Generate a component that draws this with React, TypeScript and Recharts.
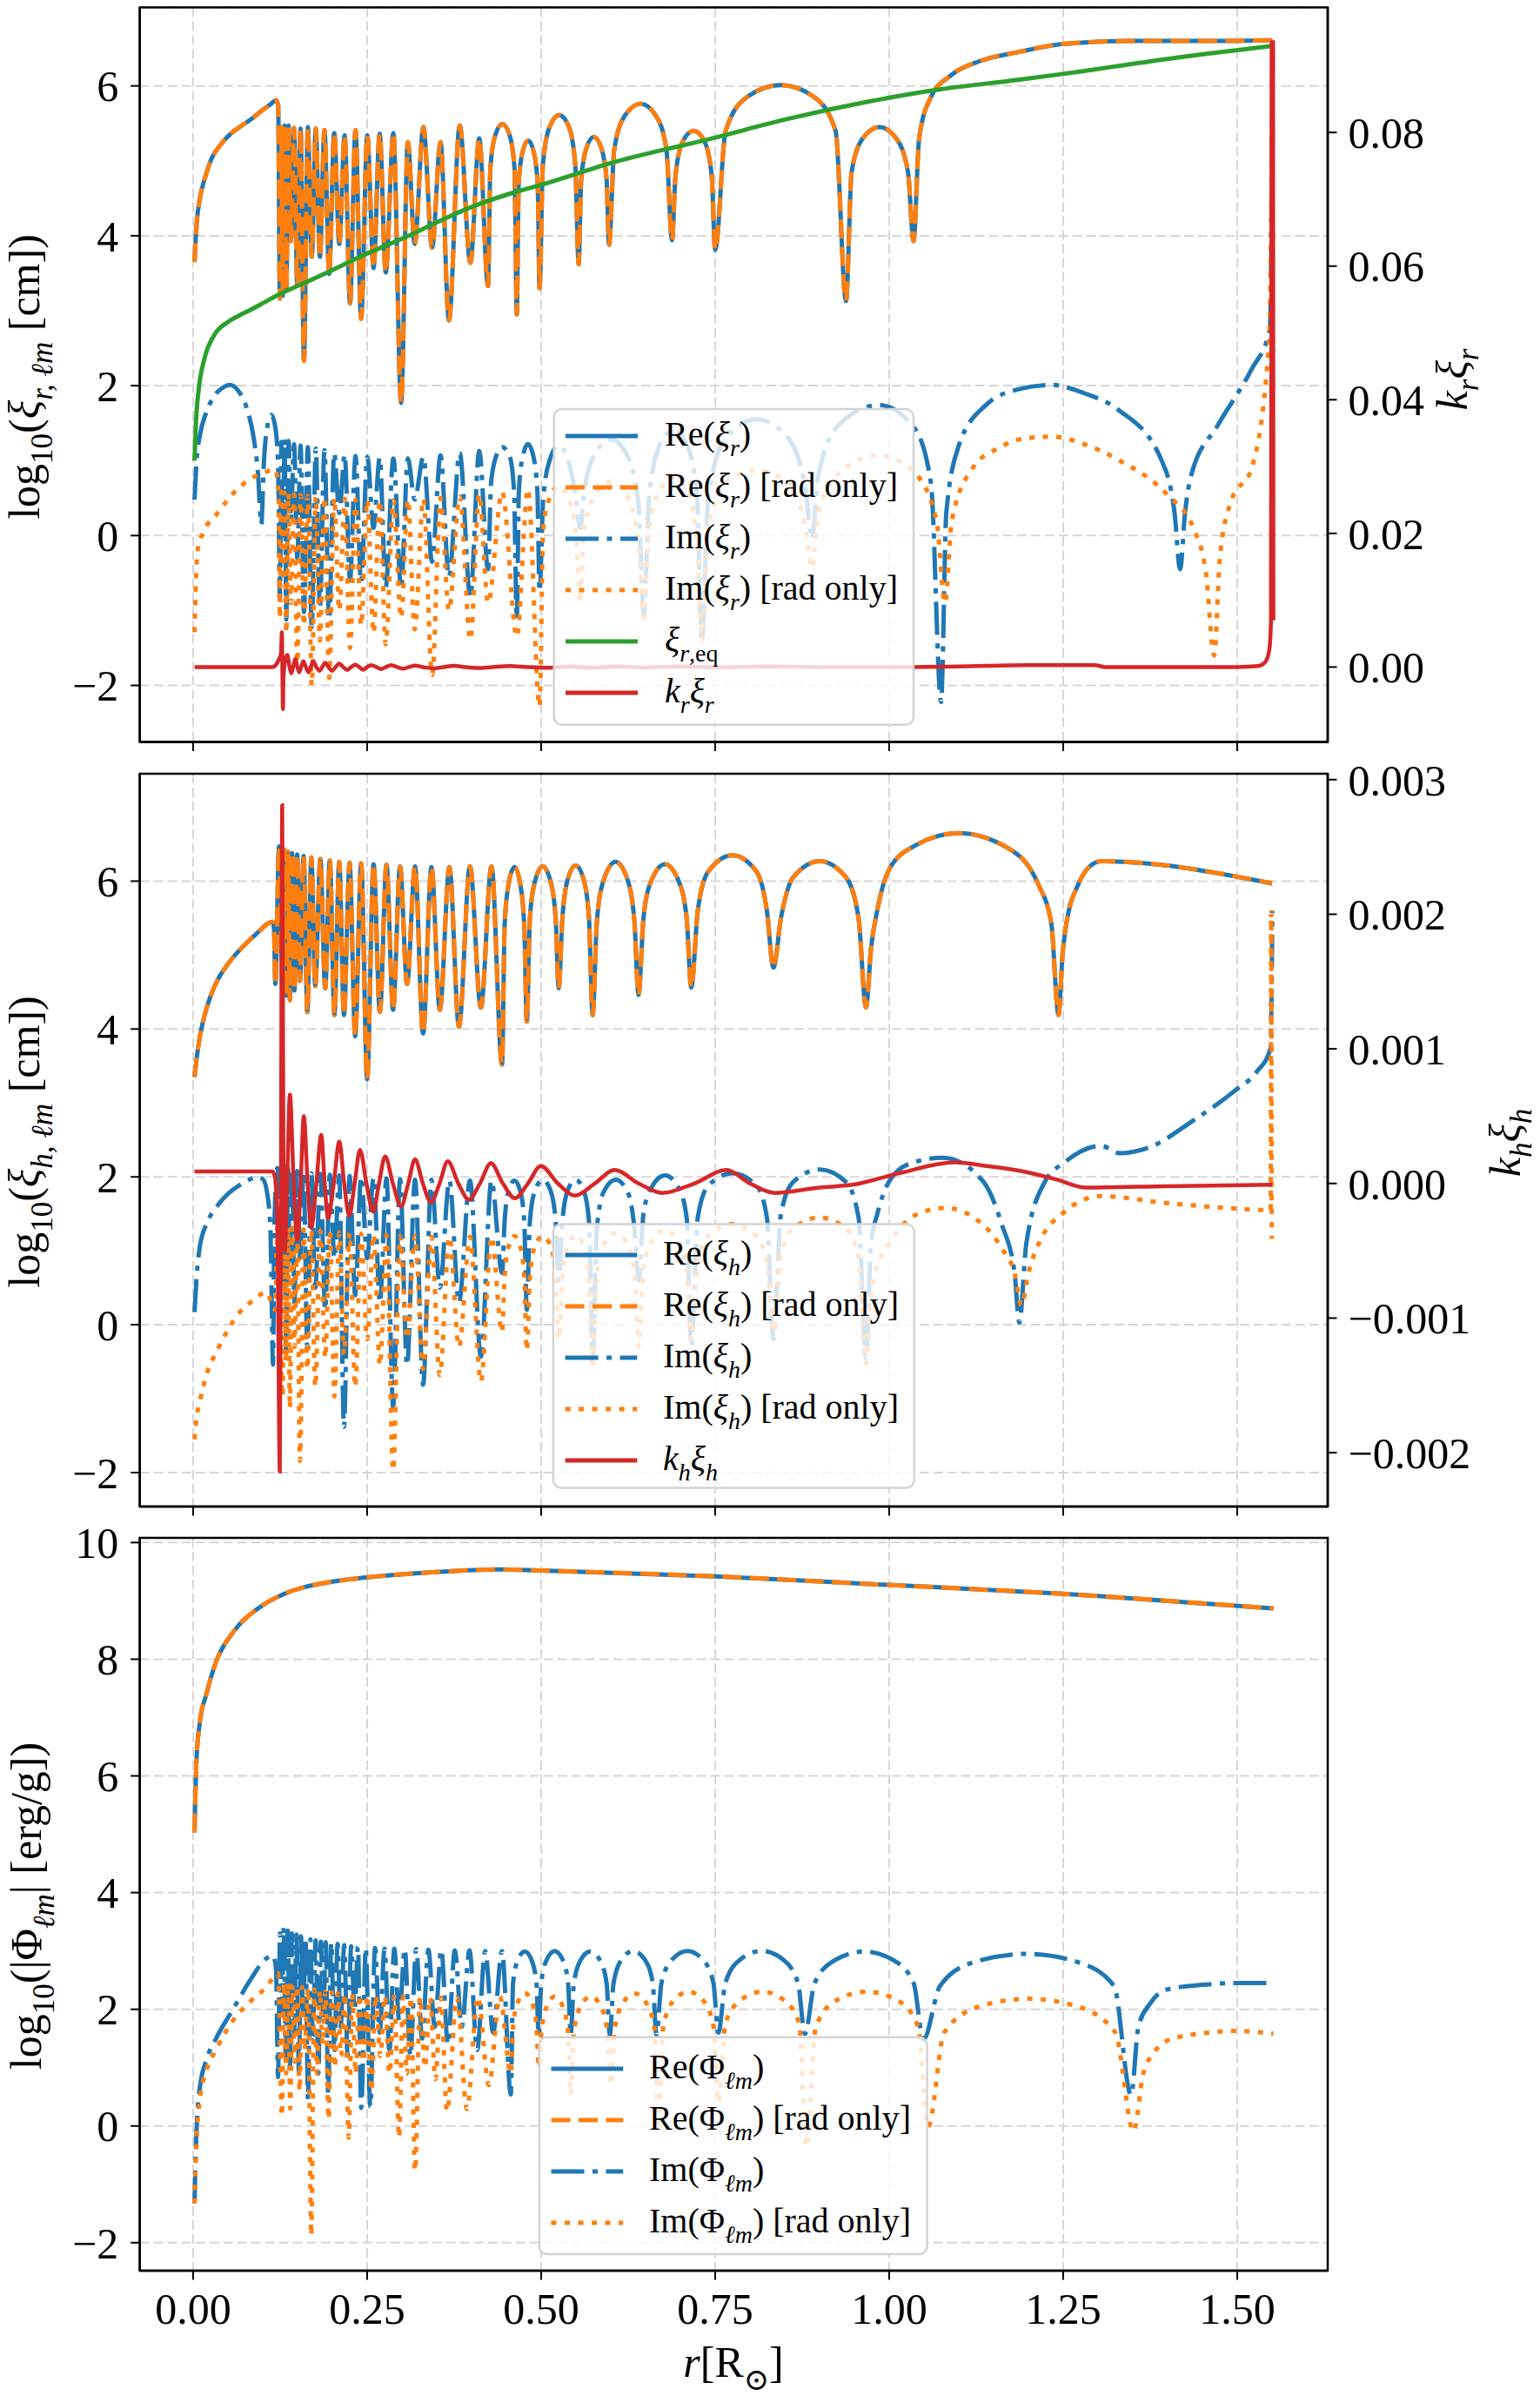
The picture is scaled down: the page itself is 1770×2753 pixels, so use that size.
import React from 'react';
import { LineChart, Line, XAxis, YAxis, CartesianGrid, ReferenceArea } from 'recharts';

const FONT = "'Liberation Serif', 'DejaVu Serif', serif";
const BLUE = '#1f77b4';
const ORANGE = '#ff7f0e';
const GREEN = '#2ca02c';
const RED = '#d62728';
const DASH = '22 9.5';
const DASHDOT = '38 9.5 6 9.5';
const DOT = '6 9.5';

const X_TICKS = [0, 0.25, 0.5, 0.75, 1.0, 1.25, 1.5];
const X_DOMAIN = [-0.0766, 1.63];

const P1_LEFT_TICKS = [-2, 0, 2, 4, 6];
const P1_RIGHT_TICKS = [0, 0.02, 0.04, 0.06, 0.08];
const P2_LEFT_TICKS = [-2, 0, 2, 4, 6];
const P2_RIGHT_TICKS = [-0.002, -0.001, 0, 0.001, 0.002, 0.003];
const P3_LEFT_TICKS = [-2, 0, 2, 4, 6, 8, 10];

// ---------- Panel 1: xi_r ----------
const reXr = [
  [0.002,3.65],[0.005,4.15],[0.01,4.51],[0.018,4.8],[0.027,5.04],[0.04,5.22],[0.055,5.37],[0.07,5.47],[0.084,5.56],[0.1,5.68],[0.112,5.76],[0.119,5.81],[0.1222,5.74],
  [0.1246,3.16],[0.1268,5.45],[0.129,3.2],[0.1314,5.47],[0.1338,3.28],[0.1371,5.47],[0.1404,3.93],[0.145,5.44],[0.1496,3.33],[0.1544,5.43],[0.1592,2.33],[0.1648,5.45],[0.1704,3.72],[0.1762,5.43],[0.1821,3.72],[0.1887,5.41],[0.1954,3.49],[0.2027,5.37],[0.21,3.89],[0.2177,5.34],[0.2254,3.10],[0.2333,5.41],[0.2413,2.89],[0.2502,5.34],[0.2592,3.57],[0.268,5.36],[0.2767,3.51],[0.2877,5.37],[0.2988,1.77],[0.3085,5.25],[0.3183,3.89],[0.3308,5.45],[0.3433,3.84],[0.3554,5.25],[0.3675,2.87],[0.383,5.47],[0.3983,3.64],[0.411,5.30],[0.4237,3.33],
  [0.427,4.9],[0.434,5.34],[0.4443,5.49],[0.4547,5.34],[0.4617,4.9],[0.465,2.95],
  [0.4677,4.7],[0.4733,5.12],[0.4813,5.27],[0.4893,5.12],[0.495,4.7],[0.4977,3.30],
  [0.5025,4.95],[0.512,5.45],[0.526,5.61],[0.540,5.45],[0.549,4.95],[0.5539,3.62],
  [0.5575,4.75],[0.565,5.17],[0.5757,5.32],[0.5865,5.17],[0.594,4.75],[0.5975,3.88],
  [0.605,5.15],[0.62,5.6],[0.643,5.76],[0.665,5.6],[0.68,5.15],[0.688,3.94],
  [0.693,4.8],[0.703,5.25],[0.719,5.40],[0.735,5.25],[0.745,4.8],[0.75,3.81],
  [0.765,5.4],[0.797,5.86],[0.844,6.01],[0.891,5.86],[0.923,5.4],[0.938,3.13],
  [0.946,4.85],[0.962,5.3],[0.986,5.45],[1.01,5.3],[1.027,4.85],[1.035,3.93],
  [1.043,5.3],[1.06,5.85],[1.09,6.15],[1.13,6.33],[1.185,6.45],[1.25,6.56],[1.35,6.6],[1.45,6.6],[1.5505,6.61],
];

const imXr = [
  [0.002,0.48],[0.005,1.0],[0.01,1.35],[0.018,1.62],[0.03,1.86],[0.042,1.97],[0.0525,2.01],[0.065,1.93],[0.077,1.7],[0.087,1.3],[0.093,0.85],[0.098,0.15],[0.1015,0.95],[0.106,1.42],[0.1123,1.61],[0.118,1.45],[0.1222,0.9],
  [0.1246,-0.86],[0.1268,1.25],[0.129,0.0],[0.1314,1.28],[0.1338,-1.12],[0.1371,1.26],[0.1404,0.2],[0.145,1.22],[0.1496,-0.3],[0.1544,1.2],[0.1592,-1.02],[0.1648,1.18],[0.1704,-1.22],[0.1762,1.16],[0.1821,-0.95],[0.1887,1.14],[0.1954,-1.12],[0.2027,1.1],[0.21,0.3],[0.2177,1.08],[0.2254,-0.59],[0.2333,1.06],[0.2413,-0.62],[0.2502,1.05],[0.2592,0.1],[0.268,1.04],[0.2767,-0.69],[0.2877,1.03],[0.2988,-0.69],[0.3085,1.03],[0.3183,0.48],[0.3308,1.05],[0.3433,-0.35],[0.3554,1.07],[0.3675,-0.55],[0.383,1.1],[0.3983,-0.82],[0.411,1.13],[0.4237,-0.45],
  [0.428,0.7],[0.435,1.05],[0.444,1.18],[0.455,1.05],[0.461,0.6],[0.465,-1.12],[0.468,0.6],[0.4735,1.05],[0.481,1.22],[0.489,1.05],[0.4945,0.6],[0.4977,-0.75],
  [0.503,0.5],[0.512,1.0],[0.525,1.2],[0.539,1.0],[0.55,0.5],[0.556,0.1],[0.562,0.6],[0.578,1.1],[0.6,1.28],[0.622,1.1],[0.64,0.4],[0.6475,-1.06],[0.655,0.5],[0.67,1.2],[0.69,1.4],[0.71,1.2],[0.724,0.5],[0.7308,-1.41],[0.74,0.5],[0.765,1.3],[0.81,1.55],[0.855,1.3],[0.88,0.6],[0.889,-0.05],[0.898,0.8],[0.93,1.5],[0.985,1.74],[1.035,1.45],[1.06,0.7],[1.0746,-2.22],
  [1.082,0.3],[1.1,1.2],[1.14,1.75],[1.185,1.95],[1.233,2.01],[1.28,1.9],[1.329,1.68],[1.391,1.01],[1.41,0.3],[1.418,-0.45],[1.425,0.3],[1.434,0.81],[1.472,1.47],[1.52,2.21],[1.547,2.75],[1.5495,4.5],[1.551,6.5],
];

const imXrRad = [
  [0.002,-1.29],[0.004,-0.6],[0.0066,-0.19],[0.015,0.05],[0.0334,0.28],[0.05,0.48],[0.067,0.65],[0.085,0.77],[0.105,0.85],[0.118,0.88],[0.1225,0.6],
  [0.1246,-1.1],[0.1268,0.58],[0.129,-0.6],[0.1314,0.57],[0.1338,-1.3],[0.1371,0.56],[0.1404,-0.9],[0.145,0.55],[0.1496,-1.7],[0.1544,0.54],[0.1592,-1.2],[0.1648,0.53],[0.1704,-2.0],[0.1762,0.52],[0.1821,-1.4],[0.1887,0.51],[0.1954,-1.9],[0.2027,0.5],[0.21,-1.0],[0.2177,0.49],[0.2254,-1.5],[0.2333,0.48],[0.2413,-1.2],[0.2502,0.48],[0.2592,-1.3],[0.268,0.47],[0.2767,-1.45],[0.2877,0.47],[0.2988,-1.1],[0.3085,0.48],[0.3183,-1.25],[0.3308,0.49],[0.3433,-1.86],[0.3554,0.5],[0.3675,-1.0],[0.383,0.52],[0.3983,-1.39],[0.411,0.55],[0.4237,-0.9],[0.444,0.58],[0.465,-1.35],[0.481,0.62],[0.4977,-2.28],
  [0.503,0.1],[0.512,0.5],[0.525,0.66],[0.539,0.5],[0.55,0.0],[0.556,-0.9],[0.562,0.1],[0.578,0.55],[0.6,0.72],[0.622,0.55],[0.64,-0.1],[0.6475,-1.1],[0.655,0.1],[0.67,0.6],[0.69,0.78],[0.71,0.6],[0.724,-0.1],[0.7308,-1.4],[0.74,0.1],[0.765,0.7],[0.81,0.87],[0.855,0.7],[0.88,0.1],[0.889,-0.44],[0.898,0.3],[0.93,0.85],[0.985,1.07],[1.035,0.85],[1.068,0.2],[1.08,-0.9],[1.09,0.2],[1.12,0.9],[1.16,1.18],[1.185,1.28],[1.233,1.32],[1.28,1.22],[1.329,1.01],[1.4,0.54],[1.438,0.08],[1.455,-0.5],[1.467,-1.6],[1.475,-0.3],[1.492,0.48],[1.52,0.88],[1.546,2.62],[1.549,4.5],[1.551,6.5],
];

const xiEq = [
  [0.002,1.0],[0.004,1.5],[0.008,1.95],[0.016,2.35],[0.03,2.67],[0.05,2.85],[0.065,2.93],[0.08,3.0],[0.1,3.1],[0.1196,3.2],[0.15,3.33],[0.1904,3.5],[0.24,3.72],[0.307,3.99],[0.35,4.18],[0.399,4.38],[0.4688,4.6],[0.5,4.68],[0.6,4.97],[0.75,5.31],[0.85,5.55],[0.97,5.79],[1.07,5.95],[1.185,6.08],[1.25,6.16],[1.4,6.36],[1.548,6.53],
];

const krXr = [
  [0.002,0.0],[0.114,0.0],[0.1195,0.0004],[0.1235,0.0012],[0.1262,0.002],[0.1275,0.0052],[0.1283,-0.001],[0.129,-0.0063],[0.1298,-0.0015],[0.1322,0.0010],[0.1353,0.0018],[0.1385,0.0],[0.1411,-0.00092],[0.144,0.0002],[0.1468,0.00122],[0.1497,0.0],[0.1525,-0.00078],[0.1555,0.0001],[0.1583,0.00087],[0.162,0.0],[0.1657,-0.00078],[0.169,0.0],[0.1726,0.00087],[0.177,0.0],[0.1812,-0.00056],[0.1855,0.0],[0.1898,0.00065],[0.1945,0.0],[0.1995,-0.00056],[0.2047,0.0],[0.2099,0.0005],[0.2156,0.0],[0.2213,-0.00042],[0.227,0.0],[0.2328,0.00036],[0.2385,0.0],[0.2443,-0.0004],[0.25,0.0],[0.2557,0.0003],[0.263,0.0],[0.2701,-0.0003],[0.277,0.0],[0.2844,0.0003],[0.293,0.0],[0.3016,-0.00025],[0.31,0.0],[0.3188,0.00022],[0.33,0.0],[0.345,-0.0002],[0.36,0.0],[0.375,0.0002],[0.39,0.0],[0.41,-0.00015],[0.43,0.0],[0.455,0.00015],[0.48,0.0],[0.51,-0.0001],[0.54,0.0001],[0.57,-0.0001],[0.61,0.0001],[0.65,-0.00008],[0.7,0.0001],[0.76,-0.00005],[0.82,0.0001],[0.9,0.0],[1.0,0.0],[1.1,0.0001],[1.2,0.0003],[1.295,0.0003],[1.31,0.0],[1.4,0.0],[1.5,0.0],[1.53,0.00015],[1.54,0.0007],[1.546,0.0025],[1.5485,0.0069],[1.549,0.05],[1.5495,0.0935],[1.5515,0.0935],[1.552,0.007],
];

// ---------- Panel 2: xi_h ----------
const reXh = [
  [0.002,3.35],[0.005,3.6],[0.0095,3.89],[0.02,4.3],[0.0334,4.63],[0.05,4.88],[0.067,5.07],[0.09,5.28],[0.1143,5.45],[0.1162,5.35],
  [0.1181,4.61],[0.1235,6.47],[0.1285,4.5],[0.131,6.43],[0.1335,4.45],[0.1362,6.4],[0.139,4.39],[0.1422,6.38],[0.1455,4.52],[0.1495,6.36],[0.1535,4.65],[0.1588,6.34],[0.164,4.23],[0.1698,6.32],[0.1755,4.58],[0.1827,6.3],[0.1898,4.55],[0.1964,6.28],[0.203,4.19],[0.2099,6.26],[0.2167,4.19],[0.2248,6.25],[0.2328,3.90],[0.2414,6.24],[0.25,3.32],[0.2592,6.23],[0.2683,4.23],[0.2778,6.22],[0.2873,4.26],[0.2973,6.2],[0.3073,4.61],[0.3188,6.2],[0.3303,3.94],[0.3424,6.19],[0.3544,4.26],[0.3682,6.19],[0.3819,4.03],[0.3977,6.2],[0.4134,4.29],[0.4286,6.2],[0.4438,3.52],
  [0.4475,5.4],[0.453,5.95],[0.4616,6.19],[0.4702,5.95],[0.4757,5.4],[0.4794,4.10],
  [0.4838,5.5],[0.4906,5.98],[0.5023,6.2],[0.514,5.98],[0.5208,5.5],[0.5252,4.55],
  [0.5305,5.5],[0.5375,6.0],[0.5496,6.21],[0.5617,6.0],[0.5687,5.5],[0.574,4.19],
  [0.58,5.45],[0.59,6.02],[0.607,6.26],[0.624,6.02],[0.634,5.45],[0.6399,4.46],
  [0.647,5.5],[0.658,6.0],[0.6778,6.23],[0.6976,6.0],[0.709,5.5],[0.7156,4.56],
  [0.725,5.6],[0.74,6.13],[0.7747,6.35],[0.8094,6.13],[0.8243,5.6],[0.8337,4.83],
  [0.8445,5.5],[0.862,6.05],[0.9002,6.27],[0.938,6.05],[0.956,5.5],[0.9667,4.29],
  [0.974,5.1],[0.983,5.61],[1.0,6.16],[1.037,6.48],[1.099,6.65],[1.17,6.45],[1.215,5.94],[1.233,5.42],[1.2433,4.19],
  [1.249,5.0],[1.258,5.6],[1.269,5.9],[1.287,6.19],[1.3045,6.27],[1.55,5.97],
];

const imXh = [
  [0.002,0.17],[0.005,0.65],[0.0095,1.05],[0.02,1.38],[0.0334,1.59],[0.05,1.77],[0.067,1.89],[0.08,1.96],[0.091,2.0],[0.1,1.97],[0.106,1.8],[0.111,1.3],[0.1148,-0.54],[0.1165,1.3],[0.121,2.12],
  [0.1285,0.6],[0.131,2.15],[0.1335,-0.44],[0.1362,2.12],[0.139,0.8],[0.1422,2.1],[0.1455,0.3],[0.1495,2.08],[0.1535,0.9],[0.1588,2.06],[0.164,-0.3],[0.1698,2.05],[0.1755,0.5],[0.1827,2.04],[0.1898,0.2],[0.1964,2.03],[0.203,0.9],[0.2099,2.02],[0.2167,-1.38],[0.2248,2.01],[0.2328,0.4],[0.2414,2.0],[0.25,0.9],[0.2592,1.99],[0.2683,0.3],[0.2778,1.98],[0.2873,-1.11],[0.2973,1.97],[0.3073,-0.55],[0.3188,1.96],[0.3303,-0.81],[0.3424,1.96],[0.3544,0.5],[0.3682,1.95],[0.3819,0.3],[0.3977,1.95],[0.4134,-0.43],[0.4286,1.95],[0.4438,0.7],
  [0.4475,1.4],[0.453,1.8],[0.4616,1.95],[0.4702,1.8],[0.4757,1.4],[0.4794,0.2],
  [0.4838,1.4],[0.4906,1.8],[0.5023,1.96],[0.514,1.8],[0.5208,1.4],[0.5252,0.6],
  [0.5305,1.4],[0.5375,1.8],[0.5496,1.96],[0.5617,1.8],[0.5687,1.4],[0.574,-0.45],
  [0.58,1.3],[0.59,1.8],[0.607,1.96],[0.624,1.8],[0.634,1.3],[0.6399,0.6],
  [0.647,1.5],[0.658,1.85],[0.6778,2.02],[0.6976,1.85],[0.709,1.45],[0.7156,-0.3],
  [0.725,1.45],[0.74,1.88],[0.7747,2.05],[0.8094,1.88],[0.8243,1.45],[0.8337,-0.2],
  [0.8445,1.5],[0.862,1.93],[0.9002,2.1],[0.938,1.93],[0.956,1.45],[0.9667,-0.45],
  [0.974,1.1],[0.983,1.5],[1.0,1.94],[1.03,2.18],[1.077,2.26],[1.135,1.94],[1.162,1.35],[1.18,0.71],[1.187,0.03],[1.197,1.1],[1.224,1.94],[1.251,2.19],[1.3045,2.42],[1.331,2.32],[1.371,2.39],[1.438,2.77],[1.496,3.16],[1.528,3.42],[1.548,3.74],[1.5495,4.6],[1.5505,5.6],
];

const imXhRad = [
  [0.002,-1.55],[0.005,-1.25],[0.0095,-1.04],[0.02,-0.65],[0.0334,-0.37],[0.05,-0.07],[0.067,0.17],[0.085,0.32],[0.105,0.44],[0.1181,0.2],[0.121,1.32],
  [0.1285,-0.97],[0.131,1.33],[0.1335,-0.5],[0.1362,1.32],[0.139,-1.13],[0.1422,1.31],[0.1455,-0.3],[0.1495,1.3],[0.1535,-1.84],[0.1588,1.29],[0.164,-0.6],[0.1698,1.28],[0.1755,-0.84],[0.1827,1.27],[0.1898,-0.45],[0.1964,1.26],[0.203,-0.97],[0.2099,1.25],[0.2167,-0.4],[0.2248,1.24],[0.2328,-0.84],[0.2414,1.23],[0.25,-0.2],[0.2592,1.22],[0.2683,-0.55],[0.2778,1.21],[0.2873,-1.97],[0.2973,1.2],[0.3073,-0.19],[0.3188,1.2],[0.3303,-0.6],[0.3424,1.19],[0.3544,-0.68],[0.3682,1.19],[0.3819,-0.3],[0.3977,1.19],[0.4134,-0.77],[0.4286,1.19],[0.4438,-0.1],
  [0.4475,0.65],[0.453,1.05],[0.4616,1.2],[0.4702,1.05],[0.4757,0.65],[0.4794,-0.35],
  [0.4838,0.65],[0.4906,1.05],[0.5023,1.2],[0.514,1.05],[0.5208,0.65],[0.5252,-0.2],
  [0.5305,0.65],[0.5375,1.05],[0.5496,1.21],[0.5617,1.05],[0.5687,0.65],[0.574,-0.6],
  [0.58,0.7],[0.59,1.08],[0.607,1.24],[0.624,1.08],[0.634,0.7],[0.6399,-0.3],
  [0.647,0.75],[0.658,1.12],[0.6778,1.28],[0.6976,1.12],[0.709,0.75],[0.7156,-0.2],
  [0.725,0.85],[0.74,1.2],[0.7747,1.36],[0.8094,1.2],[0.8243,0.85],[0.8337,-0.1],
  [0.8445,0.95],[0.862,1.3],[0.9002,1.45],[0.938,1.3],[0.956,0.9],[0.9667,-0.52],
  [0.974,0.4],[0.985,0.85],[1.0,1.1],[1.037,1.48],[1.081,1.58],[1.135,1.35],[1.162,1.03],[1.18,0.7],[1.19,0.26],[1.2,0.7],[1.215,1.1],[1.251,1.52],[1.3045,1.74],[1.394,1.65],[1.483,1.58],[1.548,1.55],[1.5488,5.58],[1.5496,1.16],
];

const khXh = [
  [0.002,0.00009],[0.114,0.00009],[0.1175,0.00005],[0.121,-0.0003],[0.1245,-0.00214],[0.1262,0.0],[0.128,0.00281],[0.1298,0.0],[0.1318,-0.0005],[0.1355,0.0001],[0.139,0.00066],[0.1445,0.0],[0.1497,-0.00042],[0.1545,0.0],[0.159,0.0005],[0.1645,0.0],[0.1697,-0.00033],[0.177,0.0],[0.184,0.00036],[0.189,0.0],[0.1938,-0.00026],[0.202,0.0],[0.21,0.00031],[0.217,0.0],[0.2242,-0.00024],[0.232,0.0],[0.2397,0.00025],[0.249,0.0],[0.2586,-0.00021],[0.267,0.0],[0.2758,0.0002],[0.287,0.0],[0.2987,-0.00017],[0.309,0.0],[0.3188,0.00018],[0.33,0.0],[0.3417,-0.00014],[0.354,0.0],[0.3658,0.000165],[0.381,0.0],[0.3962,-0.00012],[0.412,0.0],[0.4278,0.00015],[0.445,0.0],[0.4622,-0.00011],[0.481,0.0],[0.4994,0.00013],[0.524,0.0],[0.5482,-0.00009],[0.577,0.0],[0.6055,0.0001],[0.64,0.0],[0.6743,-0.00007],[0.72,0.0],[0.766,0.0001],[0.8,0.0],[0.8349,-0.00007],[0.9,-0.00003],[0.9473,-0.00001],[1.0143,0.000076],[1.0946,0.000157],[1.14,0.00013],[1.188,0.000094],[1.24,0.00003],[1.282,-0.00003],[1.4,-0.00002],[1.55,-0.00001],
];

// ---------- Panel 3: Phi ----------
const rePhi = [
  [0.002,5.03],[0.0047,6.24],[0.0095,6.91],[0.019,7.4],[0.0334,7.97],[0.0573,8.46],[0.0956,8.89],[0.129,9.11],[0.2,9.33],[0.248,9.40],[0.344,9.49],[0.439,9.54],[0.5,9.52],[0.75,9.42],[0.971,9.29],[1.25,9.12],[1.552,8.87],
];

const imPhi = [
  [0.002,-1.33],[0.0047,-0.12],[0.0095,0.65],[0.019,1.13],[0.0334,1.51],[0.0573,2.0],[0.081,2.48],[0.105,2.87],[0.1148,2.92],[0.119,2.7],
  [0.122,0.84],[0.1248,3.3],[0.1275,1.9],[0.1302,3.4],[0.133,1.2],[0.136,3.35],[0.139,1.0],[0.142,3.3],[0.145,1.6],[0.1485,3.28],[0.152,0.9],[0.155,3.25],[0.158,1.9],[0.1615,3.22],[0.165,0.45],[0.1685,3.2],[0.172,1.5],[0.176,3.18],[0.18,0.9],[0.1835,3.16],[0.187,1.8],[0.1905,3.15],[0.194,0.55],[0.1985,3.14],[0.203,1.3],[0.2075,3.12],[0.212,1.7],[0.217,3.1],[0.222,1.2],[0.227,3.08],[0.232,2.0],[0.2368,3.07],[0.2415,0.31],[0.248,3.05],[0.2546,0.33],[0.2613,3.05],[0.268,1.6],[0.275,3.04],[0.282,1.3],[0.289,3.04],[0.296,1.8],[0.304,3.03],[0.312,1.2],[0.3205,3.03],[0.329,1.5],[0.338,3.02],[0.347,1.7],[0.3565,3.02],[0.366,1.4],[0.376,3.01],[0.386,1.7],[0.397,3.01],[0.408,1.3],[0.4195,3.0],[0.431,1.6],[0.4437,3.0],[0.4564,0.54],
  [0.4596,2.45],[0.4664,2.84],[0.4764,2.99],[0.4864,2.84],[0.4932,2.45],[0.4964,1.55],
  [0.5001,2.45],[0.5079,2.85],[0.5194,3.0],[0.5309,2.85],[0.5387,2.45],[0.5424,1.56],
  [0.5469,2.44],[0.5565,2.84],[0.5705,2.99],[0.5845,2.84],[0.5941,2.44],[0.5986,1.56],
  [0.604,2.45],[0.6154,2.85],[0.6322,3.0],[0.649,2.85],[0.6603,2.45],[0.6657,1.56],
  [0.6728,2.45],[0.6879,2.85],[0.71,3.0],[0.7324,2.85],[0.7475,2.45],[0.7546,1.6],
  [0.7646,2.45],[0.7857,2.85],[0.8168,3.0],[0.8479,2.85],[0.869,2.45],[0.879,1.58],
  [0.8926,2.44],[0.9215,2.84],[0.964,2.99],[1.0065,2.84],[1.0354,2.44],[1.049,1.48],
  [1.073,2.4],[1.12,2.8],[1.198,2.95],[1.273,2.8],[1.323,2.4],[1.3475,0.53],
  [1.358,1.7],[1.375,2.1],[1.396,2.33],[1.45,2.42],[1.5,2.45],[1.552,2.45],
];

const imPhiRad = [
  [0.002,-1.33],[0.0047,-0.3],[0.0095,0.45],[0.019,0.95],[0.0334,1.32],[0.0573,1.81],[0.081,2.12],[0.105,2.38],[0.122,2.62],
  [0.1275,0.17],[0.1305,2.45],[0.1335,0.9],[0.1365,2.45],[0.1395,0.3],[0.1428,2.42],[0.146,1.1],[0.1495,2.4],[0.153,0.6],[0.1565,2.38],[0.16,1.3],[0.165,2.36],[0.1697,-1.88],[0.174,2.34],[0.178,0.9],[0.182,2.32],[0.186,1.4],[0.19,2.3],[0.1945,0.12],[0.199,2.29],[0.2035,1.0],[0.208,2.28],[0.2125,1.2],[0.218,2.27],[0.2235,-0.2],[0.2285,2.26],[0.2335,0.9],[0.239,2.25],[0.2445,1.1],[0.25,2.24],[0.256,0.6],[0.2625,2.24],[0.269,1.2],[0.2755,2.23],[0.282,0.9],[0.289,2.22],[0.2959,-0.2],[0.3015,2.22],[0.307,0.9],[0.313,2.21],[0.3188,-0.77],[0.326,2.21],[0.333,1.0],[0.3405,2.2],[0.348,0.8],[0.356,2.2],[0.3647,0.25],[0.379,2.2],[0.3933,0.29],[0.409,2.21],[0.4249,0.7],[0.4406,2.22],[0.4564,0.9],
  [0.46,1.75],[0.4665,2.12],[0.4765,2.28],[0.4865,2.12],[0.493,1.75],[0.4966,1.0],
  [0.5003,1.6],[0.508,2.05],[0.5195,2.22],[0.531,2.05],[0.5387,1.6],[0.5424,0.54],
  [0.547,1.6],[0.5566,2.05],[0.5712,2.22],[0.5858,2.05],[0.5954,1.6],[0.6,0.7],
  [0.6055,1.65],[0.6172,2.1],[0.6343,2.27],[0.6514,2.1],[0.6631,1.65],[0.6686,0.05],
  [0.6755,1.7],[0.6902,2.15],[0.7116,2.3],[0.733,2.15],[0.7477,1.7],[0.7546,0.4],
  [0.7646,1.75],[0.786,2.15],[0.8177,2.3],[0.8494,2.15],[0.8708,1.75],[0.8807,-0.36],
  [0.8946,1.7],[0.9236,2.15],[0.968,2.3],[1.0124,2.15],[1.0416,1.7],[1.0558,-0.02],
  [1.079,1.6],[1.13,2.05],[1.2,2.18],[1.27,2.05],[1.325,1.6],[1.351,-0.09],
  [1.365,0.9],[1.38,1.25],[1.403,1.48],[1.459,1.6],[1.5,1.63],[1.552,1.58],
];

const pts = (a: number[][]) => a.map(([x, y]) => ({ x, y }));

const minus = (s: string) => s.replace('-', '\u2212');
const fmtInt = (v: number) => minus(String(Math.round(v)));
const fmt2 = (v: number) => minus(v.toFixed(2));
const fmt3 = (v: number) => minus(v.toFixed(3));

const NoTick = () => null;

type Series = { data: number[][]; axis: string; color: string; dash?: string; width: number };

function Panel(props: {
  top: number; height: number; mTop: number; xH: number;
  leftDomain: number[]; leftTicks: number[];
  rightDomain?: number[]; rightTicks?: number[]; rightFmt?: (v: number) => string;
  showX: boolean; series: Series[];
}) {
  const { top, height, mTop, xH, leftDomain, leftTicks, rightDomain, rightTicks, rightFmt, showX, series } = props;
  const tickStyle = { fontSize: 50, fontFamily: FONT, fill: '#000' };
  return (
    <div style={{ position: 'absolute', left: 0, top }}>
      <LineChart width={1770} height={height} margin={{ top: mTop, right: rightDomain ? 0 : 244, bottom: 0, left: 0 }} style={{ overflow: 'visible' }}>
        <CartesianGrid yAxisId="left" stroke="#d6d6d6" strokeDasharray="11 5" strokeWidth={2} />
        <XAxis
          dataKey="x" type="number" domain={X_DOMAIN} ticks={X_TICKS} allowDataOverflow interval={0}
          height={xH} tickSize={10.5} tickMargin={15}
          axisLine={{ stroke: '#000', strokeWidth: 2.5 }} tickLine={{ stroke: '#000', strokeWidth: 2 }}
          tick={showX ? tickStyle : NoTick} tickFormatter={fmt2}
        />
        <YAxis
          yAxisId="left" type="number" domain={leftDomain} ticks={leftTicks} allowDataOverflow interval={0}
          width={160.7} tickSize={10.5} tickMargin={14}
          axisLine={{ stroke: '#000', strokeWidth: 2.5 }} tickLine={{ stroke: '#000', strokeWidth: 2 }}
          tick={tickStyle} tickFormatter={fmtInt}
        />
        {rightDomain && (
          <YAxis
            yAxisId="right" orientation="right" type="number" domain={rightDomain} ticks={rightTicks} allowDataOverflow interval={0}
            width={244} tickSize={10.5} tickMargin={13}
            axisLine={{ stroke: '#000', strokeWidth: 2.5 }} tickLine={{ stroke: '#000', strokeWidth: 2 }}
            tick={tickStyle} tickFormatter={rightFmt}
          />
        )}
        {series.map((s, i) => (
          <Line
            key={i} data={pts(s.data)} dataKey="y" yAxisId={s.axis} type="monotone"
            stroke={s.color} strokeWidth={s.width} strokeDasharray={s.dash} dot={false}
            activeDot={false} isAnimationActive={false} legendType="none"
          />
        ))}
        <ReferenceArea
          yAxisId="left" x1={X_DOMAIN[0]} x2={X_DOMAIN[1]} y1={leftDomain[0]} y2={leftDomain[1]}
          fill="none" fillOpacity={0} stroke="#000" strokeWidth={2.5} ifOverflow="visible"
        />
      </LineChart>
    </div>
  );
}

type Part = [string, string];

function MathText(props: { x: number; y: number; size: number; parts: Part[]; anchor?: string; rotate?: boolean; sub?: number }) {
  const { x, y, size, parts, anchor = 'start', rotate, sub: subShift = 0.3 } = props;
  let shift = 0;
  const spans = parts.map(([t, s], i) => {
    const sub = s[0] === 's';
    const target = sub ? size * subShift : 0;
    const dy = target - shift;
    shift = target;
    return (
      <tspan key={i} dy={dy} fontStyle={s.endsWith('i') ? 'italic' : 'normal'} fontSize={sub ? size * 0.7 : size}>
        {t}
      </tspan>
    );
  });
  return (
    <text
      x={x} y={y} fontSize={size} fontFamily={FONT} textAnchor={anchor as any} fill="#000"
      style={{ whiteSpace: 'pre' }} transform={rotate ? `rotate(-90 ${x} ${y})` : undefined}
    >
      {spans}
    </text>
  );
}

type Row = { color: string; dash?: string; parts: Part[] };

function LegendBox(props: { x: number; y: number; w: number; h: number; s0: number; s1: number; tx: number; r0: number; gap: number; rows: Row[] }) {
  const { x, y, w, h, s0, s1, tx, r0, gap, rows } = props;
  return (
    <g>
      <rect x={x} y={y} width={w} height={h} rx={9} ry={9} fill="#fff" fillOpacity={0.8} stroke="#d4d4d4" strokeWidth={2.5} />
      {rows.map((r, i) => {
        const ry = r0 + i * gap;
        return (
          <g key={i}>
            <line x1={s0} x2={s1} y1={ry} y2={ry} stroke={r.color} strokeWidth={5} strokeDasharray={r.dash} />
            <MathText x={tx} y={ry + 11} size={40} parts={r.parts} />
          </g>
        );
      })}
    </g>
  );
}

const RAD = ' [rad only]';

const legend1: Row[] = [
  { color: BLUE, parts: [['Re(', 'r'], ['\u03be', 'i'], ['r', 'si'], [')', 'r']] },
  { color: ORANGE, dash: DASH, parts: [['Re(', 'r'], ['\u03be', 'i'], ['r', 'si'], [')' + RAD, 'r']] },
  { color: BLUE, dash: DASHDOT, parts: [['Im(', 'r'], ['\u03be', 'i'], ['r', 'si'], [')', 'r']] },
  { color: ORANGE, dash: DOT, parts: [['Im(', 'r'], ['\u03be', 'i'], ['r', 'si'], [')' + RAD, 'r']] },
  { color: GREEN, parts: [['\u03be', 'i'], ['r', 'si'], [',eq', 'sr']] },
  { color: RED, parts: [['k', 'i'], ['r', 'si'], ['\u03be', 'i'], ['r', 'si']] },
];

const legend2: Row[] = [
  { color: BLUE, parts: [['Re(', 'r'], ['\u03be', 'i'], ['h', 'si'], [')', 'r']] },
  { color: ORANGE, dash: DASH, parts: [['Re(', 'r'], ['\u03be', 'i'], ['h', 'si'], [')' + RAD, 'r']] },
  { color: BLUE, dash: DASHDOT, parts: [['Im(', 'r'], ['\u03be', 'i'], ['h', 'si'], [')', 'r']] },
  { color: ORANGE, dash: DOT, parts: [['Im(', 'r'], ['\u03be', 'i'], ['h', 'si'], [')' + RAD, 'r']] },
  { color: RED, parts: [['k', 'i'], ['h', 'si'], ['\u03be', 'i'], ['h', 'si']] },
];

const legend3: Row[] = [
  { color: BLUE, parts: [['Re(\u03a6', 'r'], ['\u2113m', 'si'], [')', 'r']] },
  { color: ORANGE, dash: DASH, parts: [['Re(\u03a6', 'r'], ['\u2113m', 'si'], [')' + RAD, 'r']] },
  { color: BLUE, dash: DASHDOT, parts: [['Im(\u03a6', 'r'], ['\u2113m', 'si'], [')', 'r']] },
  { color: ORANGE, dash: DOT, parts: [['Im(\u03a6', 'r'], ['\u2113m', 'si'], [')' + RAD, 'r']] },
];

export default function App() {
  const s1: Series[] = [
    { data: reXr, axis: 'left', color: BLUE, width: 5 },
    { data: reXr, axis: 'left', color: ORANGE, dash: DASH, width: 5 },
    { data: imXr, axis: 'left', color: BLUE, dash: DASHDOT, width: 5 },
    { data: imXrRad, axis: 'left', color: ORANGE, dash: DOT, width: 5 },
    { data: xiEq, axis: 'left', color: GREEN, width: 5 },
    { data: krXr, axis: 'right', color: RED, width: 4.5 },
  ];
  const s2: Series[] = [
    { data: reXh, axis: 'left', color: BLUE, width: 5 },
    { data: reXh, axis: 'left', color: ORANGE, dash: DASH, width: 5 },
    { data: imXh, axis: 'left', color: BLUE, dash: DASHDOT, width: 5 },
    { data: imXhRad, axis: 'left', color: ORANGE, dash: DOT, width: 5 },
    { data: khXh, axis: 'right', color: RED, width: 4.5 },
  ];
  const s3: Series[] = [
    { data: rePhi, axis: 'left', color: BLUE, width: 5 },
    { data: rePhi, axis: 'left', color: ORANGE, dash: DASH, width: 5 },
    { data: imPhi, axis: 'left', color: BLUE, dash: DASHDOT, width: 5 },
    { data: imPhiRad, axis: 'left', color: ORANGE, dash: DOT, width: 5 },
  ];
  return (
    <div style={{ position: 'absolute', left: 0, top: 0, width: 1770, height: 2753, background: '#fff', overflow: 'hidden' }}>
      <Panel top={0} height={880} mTop={8.6} xH={27.5}
        leftDomain={[-2.754, 7.046]} leftTicks={P1_LEFT_TICKS}
        rightDomain={[-0.01121, 0.0987]} rightTicks={P1_RIGHT_TICKS} rightFmt={fmt2}
        showX={false} series={s1} />
      <Panel top={860} height={900} mTop={29} xH={29}
        leftDomain={[-2.459, 7.453]} leftTicks={P2_LEFT_TICKS}
        rightDomain={[-0.0024, 0.003044]} rightTicks={P2_RIGHT_TICKS} rightFmt={fmt3}
        showX={false} series={s2} />
      <Panel top={1740} height={1013} mTop={27} xH={144}
        leftDomain={[-2.48, 10.08]} leftTicks={P3_LEFT_TICKS}
        showX={true} series={s3} />
      <svg width={1770} height={2753} style={{ position: 'absolute', left: 0, top: 0, pointerEvents: 'none' }}>
        <LegendBox x={636.7} y={470} w={413.3} h={362.7} s0={650} s1={733} tx={764} r0={501} gap={59} rows={legend1} />
        <LegendBox x={635.8} y={1406.6} w={415} h={302.8} s0={649.6} s1={732.3} tx={762} r0={1442} gap={59} rows={legend2} />
        <LegendBox x={619.8} y={2340.7} w={445.8} h={249.3} s0={633.5} s1={716.2} tx={746} r0={2377} gap={59} rows={legend3} />
        <MathText x={45} y={433} size={50} anchor="middle" rotate
          parts={[['log', 'r'], ['10', 'sr'], ['(', 'r'], ['\u03be', 'i'], ['r, \u2113m', 'si'], [' [cm])', 'r']]} />
        <MathText x={45} y={1312} size={50} anchor="middle" rotate
          parts={[['log', 'r'], ['10', 'sr'], ['(', 'r'], ['\u03be', 'i'], ['h, \u2113m', 'si'], [' [cm])', 'r']]} />
        <MathText x={47} y={2190} size={50} anchor="middle" rotate
          parts={[['log', 'r'], ['10', 'sr'], ['(|\u03a6', 'r'], ['\u2113m', 'si'], ['| [erg/g])', 'r']]} />
        <MathText x={1686} y={436} size={50} anchor="middle" rotate sub={0.25}
          parts={[['k', 'i'], ['r', 'si'], ['\u03be', 'i'], ['r', 'si']]} />
        <MathText x={1747} y={1313} size={50} anchor="middle" rotate sub={0.25}
          parts={[['k', 'i'], ['h', 'si'], ['\u03be', 'i'], ['h', 'si']]} />
        <MathText x={843} y={2731} size={50} anchor="middle"
          parts={[['r', 'i'], ['[R', 'r'], ['\u2299', 'sr'], [']', 'r']]} />
      </svg>
    </div>
  );
}
